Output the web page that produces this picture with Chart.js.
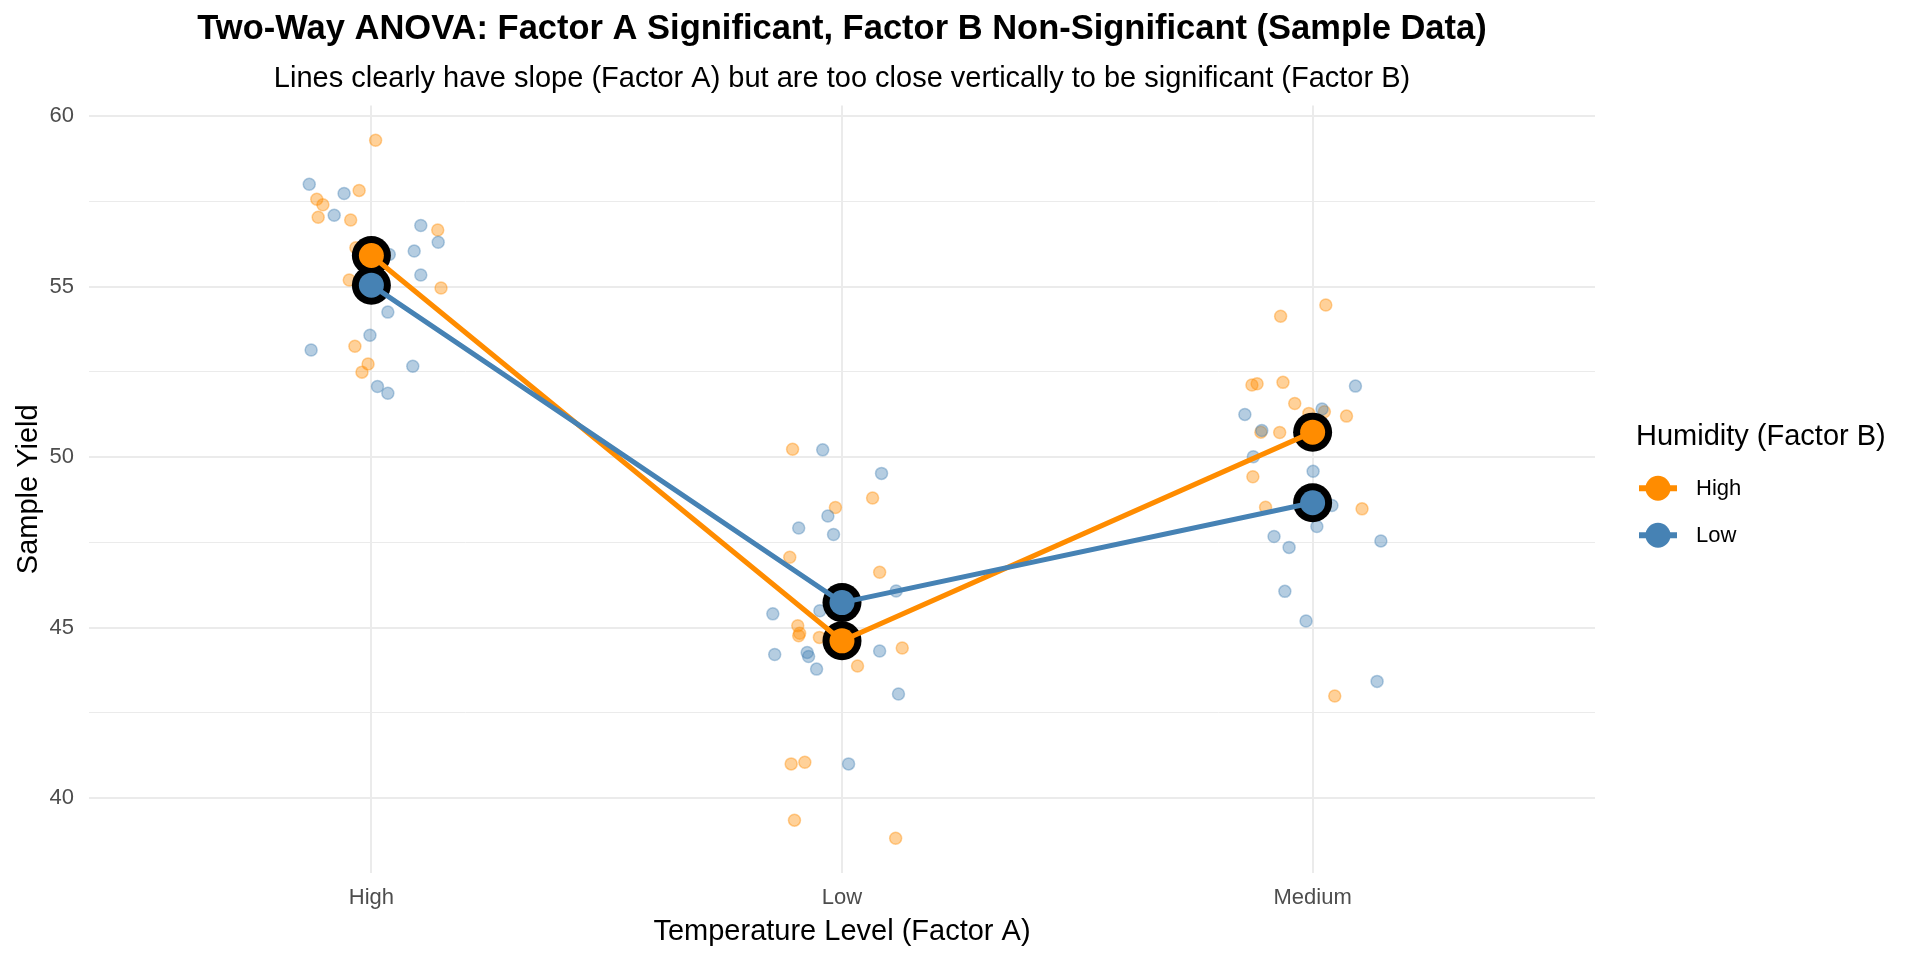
<!DOCTYPE html>
<html>
<head>
<meta charset="utf-8">
<script src="https://cdn.jsdelivr.net/npm/chart.js@4.4.1/dist/chart.umd.min.js"></script>
<style>
  html, body { margin: 0; padding: 0; background: #fff; }
  canvas { display: block; }
</style>
</head>
<body>
<canvas id="anovaChart" width="1920" height="960"></canvas>
<script>
// categories
const temperatureLevels = ["High", "Low", "Medium"];
const humidityLevels = ["High", "Low"];

// cell means (big points)
const meanHighHumidity = [55.91, 44.61, 50.73];
const meanLowHumidity = [55.04, 45.73, 48.66];

// raw observations, one list per temperature level
const highHumYield = [
    [59.29, 57.82, 57.56, 57.40, 57.03, 56.95, 56.66, 56.14, 55.19, 54.96, 53.25, 52.73, 52.49],
    [50.23, 48.52, 48.80, 47.06, 46.62, 45.05, 44.83, 44.76, 44.71, 44.40, 43.87, 41.00, 41.05, 39.35, 38.82],
    [54.46, 54.13, 52.11, 52.15, 52.19, 51.57, 51.33, 51.28, 51.20, 50.73, 50.72, 49.42, 48.53, 48.48, 42.99]
];
const highHumJitter = [
    [0.009, -0.026, -0.116, -0.103, -0.113, -0.044, 0.141, -0.033, -0.047, 0.148, -0.035, -0.007, -0.020],
    [-0.105, -0.014, 0.065, -0.111, 0.080, -0.094, -0.090, -0.092, -0.048, 0.128, 0.033, -0.108, -0.079, -0.101, 0.114],
    [0.028, -0.068, -0.129, -0.118, -0.063, -0.038, 0.025, -0.008, 0.072, -0.110, -0.070, -0.127, -0.100, 0.105, 0.047]
];
const lowHumYield = [
    [58.00, 57.73, 57.09, 56.79, 56.30, 56.04, 55.94, 55.34, 54.25, 53.57, 53.14, 52.66, 52.07, 51.87],
    [50.21, 49.52, 48.27, 47.92, 47.73, 46.07, 45.40, 45.49, 44.21, 44.27, 44.15, 44.31, 43.78, 43.05, 41.00],
    [52.08, 51.25, 51.41, 50.78, 50.01, 49.58, 48.58, 47.96, 47.67, 47.54, 47.35, 46.06, 45.19, 43.42]
];
const lowHumJitter = [
    [-0.132, -0.058, -0.079, 0.105, 0.142, 0.091, 0.038, 0.105, 0.035, -0.003, -0.128, 0.088, 0.013, 0.035],
    [-0.041, 0.084, -0.030, -0.092, -0.018, 0.115, -0.147, -0.047, -0.143, -0.074, -0.071, 0.080, -0.054, 0.120, 0.014],
    [0.091, -0.144, 0.020, -0.108, -0.126, 0.001, 0.041, 0.009, -0.082, 0.145, -0.050, -0.059, -0.014, 0.137]
];

// axis ticks
const yMajorTicks = [40, 45, 50, 55, 60];
const yMinorTicks = [42.5, 47.5, 52.5, 57.5];

const COL = {
    orange: "#FF8C00",
    blue: "#4682B4",
    orangeSoft: "rgba(255,140,0,0.4)",
    blueSoft: "rgba(70,130,180,0.4)",
    grid: "#EBEBEB",
    tick: "#4D4D4D"
};
const FONT = "'Liberation Sans', Arial, sans-serif";
Chart.defaults.font.family = FONT;

function jitterPoints(yields, jitters) {
    const pts = [];
    yields.forEach((col, i) => {
        col.forEach((y, j) => pts.push({ x: i + 1 + jitters[i][j], y: y }));
    });
    return pts;
}
function meanPoints(means) {
    return means.map((y, i) => ({ x: i + 1, y: y }));
}

// legend drawn at the right like ggplot's guide
const sideLegend = {
    id: "sideLegend",
    afterDraw(chart) {
        const ctx = chart.ctx;
        const area = chart.chartArea;
        const x0 = area.right + 46;
        const mid = (area.top + area.bottom) / 2;
        ctx.save();
        ctx.fillStyle = "#000";
        ctx.textBaseline = "middle";
        ctx.textAlign = "left";
        ctx.font = "29px " + FONT;
        ctx.fillText("Humidity (Factor B)", x0 - 5, mid - 52);
        const items = [[humidityLevels[0], COL.orange], [humidityLevels[1], COL.blue]];
        items.forEach((it, k) => {
            const y = mid - 1 + k * 47;
            ctx.strokeStyle = it[1];
            ctx.lineWidth = 6;
            ctx.beginPath();
            ctx.moveTo(x0 - 2, y);
            ctx.lineTo(x0 + 36, y);
            ctx.stroke();
            ctx.fillStyle = it[1];
            ctx.beginPath();
            ctx.arc(x0 + 17, y, 12.5, 0, Math.PI * 2);
            ctx.fill();
            ctx.fillStyle = "#000";
            ctx.font = "22px " + FONT;
            ctx.fillText(it[0], x0 + 55, y + 1);
        });
        ctx.restore();
    }
};

const ctx = document.getElementById("anovaChart").getContext("2d");

new Chart(ctx, {
    type: "scatter",
    data: {
        datasets: [
            {
                label: "obs High",
                data: jitterPoints(highHumYield, highHumJitter),
                backgroundColor: COL.orangeSoft,
                borderColor: COL.orangeSoft,
                borderWidth: 1.5,
                pointRadius: 6,
                order: 9
            },
            {
                label: "obs Low",
                data: jitterPoints(lowHumYield, lowHumJitter),
                backgroundColor: COL.blueSoft,
                borderColor: COL.blueSoft,
                borderWidth: 1.5,
                pointRadius: 6,
                order: 8
            },
            {
                label: "rings",
                data: meanPoints(meanHighHumidity).concat(meanPoints(meanLowHumidity)),
                backgroundColor: "#000",
                borderWidth: 0,
                pointRadius: 19.5,
                order: 7
            },
            {
                type: "line",
                label: humidityLevels[0],
                data: meanPoints(meanHighHumidity),
                borderColor: COL.orange,
                backgroundColor: COL.orange,
                borderWidth: 5,
                pointRadius: 12.5,
                pointBorderWidth: 0,
                showLine: true,
                order: 6
            },
            {
                type: "line",
                label: humidityLevels[1],
                data: meanPoints(meanLowHumidity),
                borderColor: COL.blue,
                backgroundColor: COL.blue,
                borderWidth: 5,
                pointRadius: 12.5,
                pointBorderWidth: 0,
                showLine: true,
                order: 5
            }
        ]
    },
    options: {
        responsive: false,
        animation: false,
        devicePixelRatio: 1,
        layout: { padding: { left: 0, right: 325, top: 0, bottom: 0 } },
        plugins: {
            legend: { display: false },
            tooltip: { enabled: false },
            title: {
                display: true,
                fullSize: false,
                text: "Two-Way ANOVA: Factor A Significant, Factor B Non-Significant (Sample Data)",
                color: "#000",
                font: { size: 34.5, weight: "bold" },
                padding: { top: 8.3, bottom: 0 }
            },
            subtitle: {
                display: true,
                fullSize: false,
                text: "Lines clearly have slope (Factor A) but are too close vertically to be significant (Factor B)",
                color: "#000",
                font: { size: 29 },
                padding: { top: 11.5, bottom: 9.5 }
            }
        },
        scales: {
            x: {
                type: "linear",
                min: 0.4,
                max: 3.6,
                border: { display: false },
                afterFit: s => { s.height = 87; },
                afterBuildTicks: s => { s.ticks = temperatureLevels.map((_, i) => ({ value: i + 1 })); },
                grid: { color: COL.grid, lineWidth: 2, drawTicks: false },
                ticks: {
                    color: COL.tick,
                    font: { size: 22 },
                    padding: 12,
                    callback: v => temperatureLevels[Math.round(v) - 1]
                },
                title: {
                    display: true,
                    text: "Temperature Level (Factor A)",
                    color: "#000",
                    font: { size: 29 },
                    padding: { top: 0, bottom: 10.6 }
                }
            },
            y: {
                min: 37.8,
                max: 60.31,
                border: { display: false },
                afterFit: s => { s.width = 89; },
                afterBuildTicks: s => {
                    s.ticks = yMajorTicks.concat(yMinorTicks).sort((a, b) => a - b).map(v => ({ value: v }));
                },
                grid: {
                    color: COL.grid,
                    drawTicks: false,
                    lineWidth: c => (yMajorTicks.includes(c.tick.value) ? 2 : 1)
                },
                ticks: {
                    color: COL.tick,
                    font: { size: 22 },
                    padding: 15,
                    callback: v => (yMajorTicks.includes(v) ? v : "")
                },
                title: {
                    display: true,
                    text: "Sample Yield",
                    color: "#000",
                    font: { size: 29 },
                    padding: { top: 11.6, bottom: 0 }
                }
            }
        }
    },
    plugins: [sideLegend]
});
</script>
</body>
</html>
